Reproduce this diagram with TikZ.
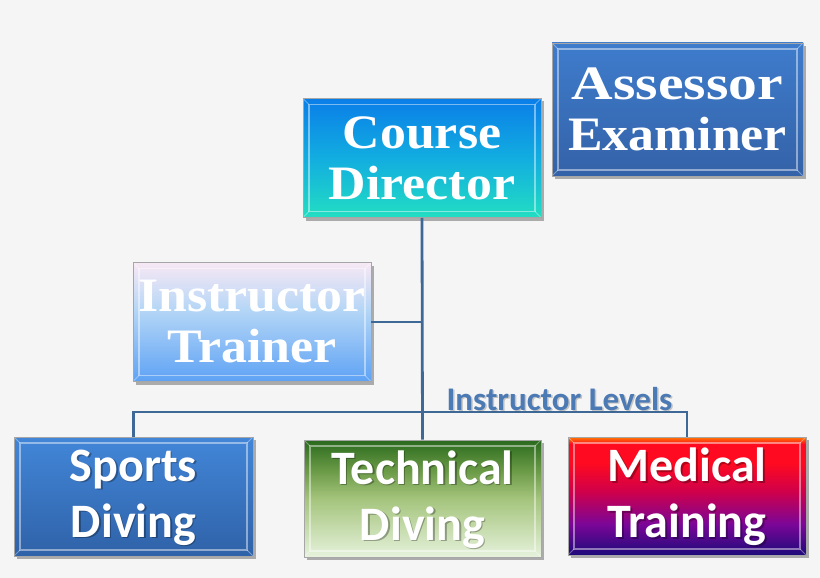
\documentclass[tikz,border=0pt]{standalone}
\usepackage{fontspec}
\setmainfont{Liberation Serif}
\newfontfamily\serifb[FakeStretch=1.08]{Liberation Serif}
\newfontfamily\serifw[FakeStretch=1.2]{Liberation Serif}
\newfontfamily\sansb{Carlito}
\usetikzlibrary{shadows}
\definecolor{bg}{HTML}{F5F5F5}
\definecolor{conn}{HTML}{3E6896}
\definecolor{lvl}{HTML}{4C7AB4}
\definecolor{asT}{HTML}{3E7CCC}\definecolor{asB}{HTML}{3462A8}
\definecolor{cdT}{HTML}{0A7EE8}\definecolor{cdM}{HTML}{12ADE0}\definecolor{cdB}{HTML}{22DEC2}
\definecolor{itT}{HTML}{F8E8F5}\definecolor{itM}{HTML}{B4D6F6}\definecolor{itB}{HTML}{5EA2F5}
\definecolor{spT}{HTML}{4286D8}\definecolor{spB}{HTML}{2F62A8}
\definecolor{teT}{HTML}{2A6A1E}\definecolor{teU}{HTML}{6A9A46}\definecolor{teM}{HTML}{A4C47C}\definecolor{teB}{HTML}{E6F2DC}
\definecolor{meO}{HTML}{FF7A00}\definecolor{meR}{HTML}{FF0A20}\definecolor{meM}{HTML}{D0004A}\definecolor{meP}{HTML}{7A0698}\definecolor{meB}{HTML}{1E0A7A}
\pgfdeclareverticalshading{asshade}{100bp}{color(0bp)=(asB); color(25bp)=(asB); color(75bp)=(asT); color(100bp)=(asT)}
\pgfdeclareverticalshading{cdshade}{100bp}{color(0bp)=(cdB); color(25bp)=(cdB); color(50bp)=(cdM); color(75bp)=(cdT); color(100bp)=(cdT)}
\pgfdeclareverticalshading{itshade}{100bp}{color(0bp)=(itB); color(25bp)=(itB); color(55bp)=(itM); color(75bp)=(itT); color(100bp)=(itT)}
\pgfdeclareverticalshading{spshade}{100bp}{color(0bp)=(spB); color(25bp)=(spB); color(75bp)=(spT); color(100bp)=(spT)}
\pgfdeclareverticalshading{teshade}{100bp}{color(0bp)=(teB); color(25bp)=(teB); color(50bp)=(teM); color(62bp)=(teU); color(75bp)=(teT); color(100bp)=(teT)}
\pgfdeclareverticalshading{meshade}{100bp}{color(0bp)=(meB); color(25bp)=(meB); color(38bp)=(meP); color(52bp)=(meM); color(64bp)=(meR); color(72bp)=(meR); color(75bp)=(meO); color(100bp)=(meO)}
\tikzset{
  box/.style={rectangle, inner sep=0pt, draw=black!35, line width=0.6pt,
    drop shadow={shadow xshift=2.5pt, shadow yshift=-3pt, opacity=.3, fill=black},
    path picture={
      \coordinate (pnw) at (path picture bounding box.north west);
      \coordinate (pse) at (path picture bounding box.south east);
      \coordinate (pne) at (path picture bounding box.north east);
      \coordinate (psw) at (path picture bounding box.south west);
      \draw[white, opacity=.45, line width=1.4pt]
        ([xshift=6pt,yshift=-6pt]pnw) rectangle ([xshift=-6pt,yshift=6pt]pse);
      \draw[white, opacity=.35, line width=0.8pt]
        (pnw) -- ++(6pt,-6pt) (pne) -- ++(-6pt,-6pt)
        (psw) -- ++(6pt,6pt) (pse) -- ++(-6pt,6pt);
    }},
  serifbox/.style={box, text=white, align=center,
    font=\serifb\bfseries\fontsize{48}{51}\selectfont},
  sanstxt/.style={align=center, font=\sansb\bfseries\fontsize{48}{56}\selectfont},
  sansshadow/.style={sanstxt, text=black, opacity=.3},
  sanswhite/.style={sanstxt, text=white},
  conline/.style={draw=conn, line width=2.8pt},
  lvlfont/.style={font=\sansb\bfseries\fontsize{33}{36}\selectfont, anchor=base}
}
\begin{document}
\begin{tikzpicture}[x=1pt, y=-1pt]
\fill[bg] (0,0) rectangle (820,578);
\useasboundingbox (0,0) rectangle (820,578);

\coordinate (bus) at (422,412);

% boxes
\node[serifbox, shading=asshade, minimum width=251pt, minimum height=133pt] (as) at (677.5,109.5) {{\serifw\bfseries Assessor}\\Examiner};
\node[serifbox, shading=cdshade, minimum width=238pt, minimum height=119pt] (cd) at (422,158) {Course\\Director};
\node[serifbox, shading=itshade, minimum width=238pt, minimum height=119pt] (it) at (252,322) {Instructor\\Trainer};
\node[box, shading=spshade, minimum width=239pt, minimum height=119pt] (sp) at (133.5,496.5) {};
\node[box, shading=teshade, minimum width=237pt, minimum height=117pt] (te) at (422.5,498.5) {};
\node[box, shading=meshade, minimum width=238pt, minimum height=118pt] (me) at (687,496) {};

% connectors
\draw[conline] (cd.south) -- (te.north);
\draw[conline] (it.east) -- (it.east -| cd.south);
\draw[conline] (sp.north) |- (bus) -| (me.north);

% label
\node[lvlfont, text=black, opacity=.2] (lvls) at (561,411.5) {Instructor Levels};
\node[lvlfont, text=lvl] (lvl) at (559.5,410) {Instructor Levels};

% bottom texts with soft shadows
\node[sansshadow] (sps) at (135,499) {Sports\\Diving};
\node[sanswhite] (spt) at (133.5,497.5) {Sports\\Diving};
\node[sansshadow] (tes) at (424,501) {Technical\\Diving};
\node[sanswhite] (tet) at (422.5,499.5) {Technical\\Diving};
\node[sansshadow] (mes) at (688.5,498.5) {Medical\\Training};
\node[sanswhite] (met) at (687,497) {Medical\\Training};
\end{tikzpicture}
\end{document}
